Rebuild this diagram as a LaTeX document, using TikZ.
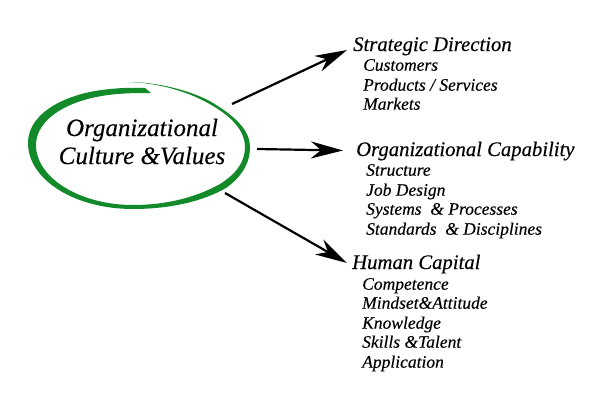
\documentclass[tikz,border=0pt]{standalone}
\usepackage{fontspec}
\setmainfont[ItalicFeatures={FakeBold=0.25}]{Liberation Serif}
\usetikzlibrary{arrows.meta}
\definecolor{ringgreen}{RGB}{18,138,42}
\tikzset{
  head/.style={font=\itshape\fontsize{20.7}{22}\selectfont,anchor=base west,inner sep=0pt},
  item/.style={font=\itshape\fontsize{17.5}{19}\selectfont,anchor=base west,inner sep=0pt},
  title/.style={font=\itshape\fontsize{25}{27}\selectfont,anchor=base,inner sep=0pt},
  link/.style={line width=2.2pt,-{Stealth[length=32pt,width=17pt,inset=10pt]}}
}
\begin{document}
\begin{tikzpicture}[x=1pt,y=-1pt]
\useasboundingbox (0,0) rectangle (600,407);
\fill[white] (0,0) rectangle (600,407);
% hand-brushed ring
\fill[ringgreen] (128,82)
  .. controls (160,82) and (195,92) .. (213,103)
  .. controls (238,118) and (250,132) .. (250,147)
  .. controls (250,165) and (240,178) .. (226,188)
  .. controls (200,203) and (165,209) .. (133,209)
  .. controls (75,209) and (28,180) .. (28,143)
  .. controls (28,120) and (50,104) .. (75,96)
  .. controls (95,89) and (125,87) .. (145,88)
  -- (151,93) -- (143,93)
  .. controls (115,93) and (95,96) .. (78,102)
  .. controls (55,110) and (36,125) .. (36,145)
  .. controls (36,178) and (80,205) .. (133,205)
  .. controls (165,205) and (195,198) .. (220,184)
  .. controls (236,174) and (245,162) .. (245,147)
  .. controls (245,133) and (235,119) .. (213,106)
  .. controls (190,92) and (160,83) .. (128,82) -- cycle;
\node[title] (t1) at (142,136) {Organizational};
\node[title] (t2) at (142,164) {Culture \&Values};
\node[head] (sd) at (353,51) {Strategic Direction};
\node[item] (a1) at (363,70.7) {Customers};
\node[item] (a2) at (363,90.7) {Products / Services};
\node[item] (a3) at (363,109.7) {Markets};
\node[head] (oc) at (356,156) {Organizational Capability};
\node[item] (b1) at (366,175.7) {Structure};
\node[item] (b2) at (366,195.7) {Job Design};
\node[item] (b3) at (366,214.7) {Systems\ \ \& Processes};
\node[item] (b4) at (366,234.7) {Standards\ \ \& Disciplines};
\node[head] (hc) at (352,269) {Human Capital};
\node[item] (c1) at (362,289.7) {Competence};
\node[item] (c2) at (362,308.7) {Mindset\&Attitude};
\node[item] (c3) at (362,328.7) {Knowledge};
\node[item] (c4) at (362,347.7) {Skills \&Talent};
\node[item] (c5) at (362,367.7) {Application};
\coordinate (s1) at (232,104);
\coordinate (e1) at (347,50);
\coordinate (s2) at (257,149);
\coordinate (e2) at (343,150.5);
\coordinate (s3) at (225,193);
\coordinate (e3) at (347,263);
\draw[link] (s1) -- (e1);
\draw[link] (s2) -- (e2);
\draw[link] (s3) -- (e3);
\end{tikzpicture}
\end{document}
